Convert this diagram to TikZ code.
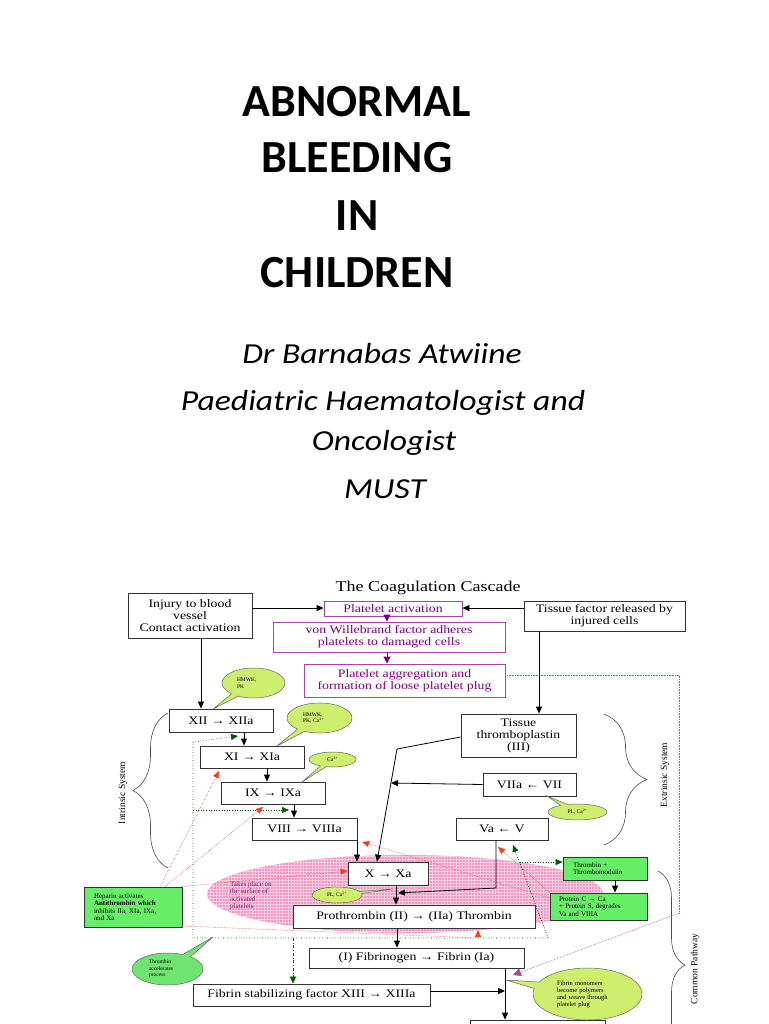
\documentclass[tikz,border=0pt]{standalone}
\usepackage{fontspec}
\setmainfont{Carlito}
\newfontfamily\subf[FakeStretch=1.16]{Carlito}
\newfontfamily\tms[FakeStretch=1.2]{Liberation Serif}
\newfontfamily\tmsn{Liberation Serif}
\usetikzlibrary{arrows.meta,shapes.geometric,shapes.callouts,decorations.pathreplacing,patterns}
\definecolor{pur}{RGB}{128,0,128}
\definecolor{purb}{RGB}{165,70,165}
\definecolor{callg}{RGB}{206,238,110}
\definecolor{boxg}{RGB}{102,238,102}
\definecolor{accg}{RGB}{112,228,112}
\definecolor{pinkf}{RGB}{242,150,195}
\definecolor{pinkl}{RGB}{250,205,225}
\definecolor{dgreen}{RGB}{0,90,0}
\definecolor{redd}{RGB}{250,60,30}
\definecolor{txtp}{RGB}{130,30,95}
\tikzset{
  box/.style={draw=black!80, fill=white, line width=0.8pt, inner sep=0pt, align=center,
    font=\tms\fontsize{11.5}{12}\selectfont},
  pbox/.style={box, draw=purb, text=pur},
  gbox/.style={draw=black!80, fill=boxg, line width=0.8pt, inner sep=0pt, align=left,
    font=\tmsn\fontsize{7}{7.5}\selectfont},
  call/.style={ellipse callout, draw=black!60, fill=callg, line width=0.5pt, inner sep=0pt,
    align=left, font=\tmsn\fontsize{5.5}{6.5}\selectfont},
  arr/.style={-{Triangle[length=7,width=6]}, line width=0.8pt, draw=black},
  parr/.style={-{Triangle[length=7,width=7]}, line width=0.8pt, draw=pur},
  gdot/.style={dgreen, dotted, line width=0.6pt, -{Triangle[length=7,width=6]}},
  rdot/.style={redd, densely dotted, line width=0.5pt, -{Triangle[length=7,width=6]}},
  brc/.style={decorate, draw=black!70, line width=0.6pt},
  lbl/.style={font=\tmsn\fontsize{9.5}{10}\selectfont, rotate=90},
  ttl/.style={anchor=base, font=\bfseries\fontsize{46}{50}\selectfont},
  sub/.style={anchor=base, font=\subf\itshape\fontsize{29}{32}\selectfont}
}
\begin{document}
\begin{tikzpicture}[x=1pt,y=-1pt]
\useasboundingbox (0,0) rectangle (768,1024);
\clip (0,0) rectangle (768,1024);
\fill[white] (0,0) rectangle (768,1024);

% Title
\node[ttl] (t1) at (357,117) {ABNORMAL};
\node[ttl] (t2) at (357,173) {BLEEDING};
\node[ttl] (t3) at (357,230) {IN};
\node[ttl] (t4) at (357,287) {CHILDREN};
\node[sub] (s1) at (382,363) {Dr Barnabas Atwiine};
\node[sub] (s2) at (383,410) {Paediatric Haematologist and};
\node[sub] (s3) at (384,450) {Oncologist};
\node[sub] (s4) at (385,498) {MUST};

% Diagram title
\node[anchor=base, font=\tms\fontsize{15}{15}\selectfont] (ct) at (428,591) {The Coagulation Cascade};

% pink ellipse
\fill[pinkf] (405,894) ellipse [x radius=198, y radius=39];
\fill[pattern=grid, pattern color=pinkl] (405,894) ellipse [x radius=198, y radius=39];
\node[anchor=north west, inner sep=0pt, align=left, text=txtp, font=\tmsn\fontsize{7}{7.5}\selectfont] (tk) at (230,881)
  {Takes place on\\the surface of\\activated\\platelets};

% braces
\draw[brc, decoration={brace, amplitude=35}] (168,868) -- (168,713);
\draw[brc, decoration={brace, amplitude=43}] (604,714) -- (604,845);
\draw[brc, decoration={brace, amplitude=27}] (658,871) -- (658,1059);
\node[lbl] (intl) at (123,793) {Intrinsic System};
\node[lbl] (extl) at (665,775) {Extrinsic System};
\node[lbl] (coml) at (695,969) {Common Pathway};

% coordinates for dotted paths
\coordinate (g1) at (193,742);
\coordinate (g2) at (193,938);
\coordinate (g3) at (548,938);
\coordinate (g4) at (513,845);
\coordinate (g5) at (519.5,862);
\coordinate (g6) at (193,810);
\coordinate (g7) at (293,938);
\coordinate (gxa) at (238,736);
\coordinate (gix) at (289,810);
\coordinate (pp1) at (679,675);
\coordinate (pp2) at (679,913);
\coordinate (pp3) at (513,975);

% green dotted feedback
\draw[dgreen, dotted, line width=0.6pt] (g1) -- (g2) -- (g3) -- (g4);
\draw[gdot] (g3) -- (g4);
\draw[gdot] (g1) -- (gxa);
\draw[gdot] (g6) -- (gix);

% boxes
\node[box, minimum width=124, minimum height=45] (inj) at (190,615.5) {Injury to blood\\vessel\\Contact activation};
\node[pbox, minimum width=138, minimum height=15] (pa) at (393,608.5) {Platelet activation};
\node[pbox, minimum width=232, minimum height=30] (vwf) at (389,637) {von Willebrand factor adheres\\platelets to damaged cells};
\node[pbox, minimum width=201, minimum height=33] (agg) at (404.5,680.5) {Platelet aggregation and\\formation of loose platelet plug};
\node[box, minimum width=161, minimum height=30] (tf) at (604.5,616) {Tissue factor released by\\injured cells};
\node[box, minimum width=104, minimum height=23] (xii) at (221,720.5) {XII → XIIa};
\node[box, minimum width=104, minimum height=22] (xi) at (252,757) {XI → XIa};
\node[box, minimum width=104, minimum height=22] (ix) at (273,793) {IX → IXa};
\node[box, minimum width=105, minimum height=22] (viii) at (304.5,829) {VIII → VIIIa};
\node[box, minimum width=115, minimum height=43] (tt) at (518.5,735.5) {Tissue\\thromboplastin\\(III)};
\node[box, minimum width=93, minimum height=23] (vii) at (529.5,784.5) {VIIa ← VII};
\node[box, minimum width=92, minimum height=22] (va) at (502,829) {Va ← V};
\node[box, minimum width=80, minimum height=23] (x) at (388,873.5) {X → Xa};
\node[box, minimum width=242, minimum height=23] (pro) at (414,916.5) {Prothrombin (II) → (IIa) Thrombin};
\node[box, minimum width=215, minimum height=20] (fib) at (416.5,958) {(I) Fibrinogen → Fibrin (Ia)};
\node[box, minimum width=237, minimum height=22] (xiii) at (311.5,995) {Fibrin stabilizing factor XIII → XIIIa};
\node[box, minimum width=135, minimum height=30] (fin) at (537.5,1035) {};

% green boxes
\node[gbox, minimum width=98, minimum height=40, text width=78] (hep) at (133,907)
  {Heparin activates\\{\bfseries Antithrombin which}\\inhibits IIa, XIa, IXa,\\and Xa};
\node[gbox, minimum width=84, minimum height=23, text width=64] (tm) at (605,868.5)
  {Thrombin +\\Thrombomodulin};
\node[gbox, minimum width=97, minimum height=27, text width=79] (pc) at (598.5,906.5)
  {Protein C → Ca\\+ Protein S, degrades\\Va and VIIIA};

% more dotted
\draw[gdot] (g5) -- (tm.west |- g5);
\draw[dgreen, dash dot, line width=0.6pt, -{Triangle[length=7,width=6]}] (g7) -- (xiii.north -| g7);
\draw[purb, densely dotted, line width=0.6pt] (agg.east |- pp1) -- (pp1) -- (pp2);
\draw[purb, densely dotted, line width=0.6pt, -{Triangle[length=8,width=8]}] (pp2) -- (pp3);

% red dotted (inhibition)
\draw[rdot] (hep.north -| 160,0) -- (219,771);
\draw[rdot] (hep.north -| 165,0) -- (263,807);
\draw[rdot] (hep.north east) -- (x.west |- 0,871);
\draw[rdot] (hep.east |- 0,926) -- (478,938) -- (478,930);
\draw[rdot] (pc.west |- 0,898) -- (362,842);
\draw[rdot] (pc.north west) -- (498,847);

% main arrows
\draw[arr] (inj.east |- 0,608) -- (pa.west |- 0,608);
\draw[arr] (tf.west |- 0,608) -- (pa.east |- 0,608);
\draw[parr] (pa.south -| 387,0) -- (vwf.north -| 387,0);
\draw[parr] (vwf.south -| 387,0) -- (agg.north -| 387,0);
\draw[arr] (inj.south -| 201,0) -- (xii.north -| 201,0);
\draw[arr] (tf.south -| 539,0) -- (tt.north -| 539,0);
\draw[arr] (xii.south -| 244,0) -- (xi.north -| 244,0);
\draw[arr] (xi.south -| 267,0) -- (ix.north -| 267,0);
\draw[arr] (ix.south -| 294,0) -- (viii.north -| 294,0);
\draw[arr] (viii.south -| 357,0) -- (x.north -| 357,0);
\coordinate (j0) at (397,749);
\coordinate (j1) at (391,783);
\coordinate (j2) at (398,893);
\coordinate (j3) at (505,991);
\draw[arr] (tt.west |- 0,737) -- (j0) -- (x.north -| 377,0);
\draw[arr] (vii.west) -- (j1);
\draw[arr] (va.south -| 496,0) -- (496,888) -- (j2);
\draw[arr] (x.south -| 396,0) -- (pro.north -| 396,0);
\draw[arr] (pro.south -| 397,0) -- (fib.north -| 397,0);
\draw[arr] (fib.south -| 505,0) -- (fin.north -| 505,0);
\draw[arr] (xiii.east |- j3) -- (j3);
\draw[arr] (tm.south -| 615,0) -- (pc.north -| 615,0);

% callouts
\node[call, minimum width=63, minimum height=30, text width=33, callout absolute pointer={(213,709)}] (c1) at (253.5,683) {HMWK,\\PK};
\node[call, minimum width=65, minimum height=30, text width=33, callout absolute pointer={(277,746)}] (c2) at (319.5,718) {HMWK,\\PK, Ca\textsuperscript{2+}};
\node[call, minimum width=47, minimum height=15, align=center, callout absolute pointer={(302,782)}] (c3) at (332.5,759.5) {Ca\textsuperscript{2+}};
\node[call, minimum width=59, minimum height=16, align=center, callout absolute pointer={(547,796)}] (c4) at (577.5,812) {PL, Ca\textsuperscript{2+}};
\node[call, minimum width=50, minimum height=16, align=center, callout absolute pointer={(393,889)}] (c5) at (337,895) {PL, Ca\textsuperscript{2+}};
\node[call, fill=accg, minimum width=71, minimum height=32, text width=37, callout absolute pointer={(213,937)}] (c6) at (167.5,969) {Thrombin\\accelerates\\process};
\node[call, minimum width=109, minimum height=52, text width=61, font=\tmsn\fontsize{6.5}{7}\selectfont, callout absolute pointer={(506,980)}] (c7) at (587.5,994) {Fibrin monomers\\become polymers\\and weave through\\platelet plug};
\end{tikzpicture}
\end{document}
